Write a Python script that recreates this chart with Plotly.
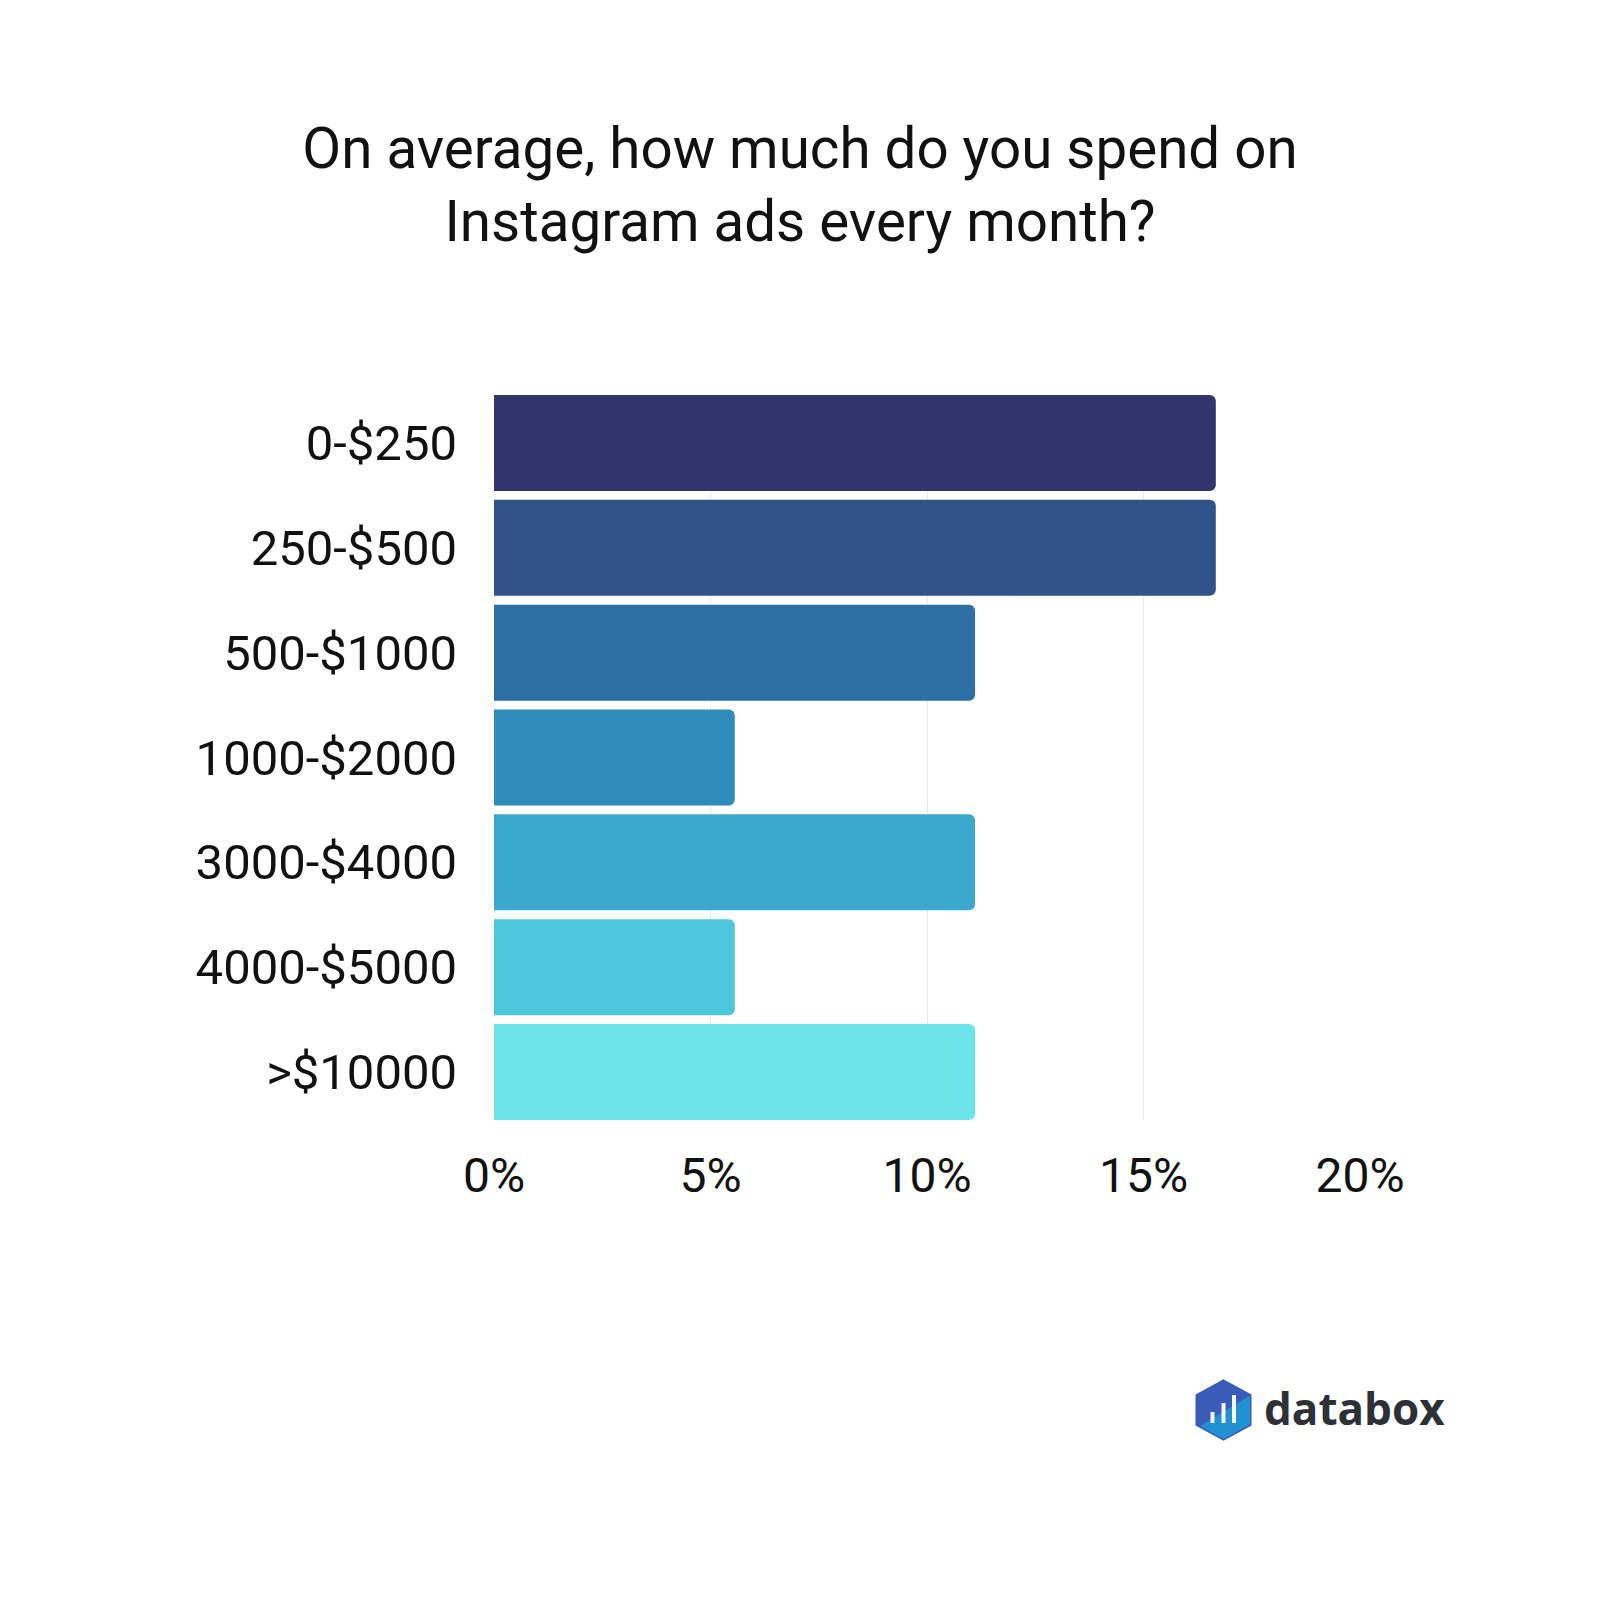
import plotly.graph_objects as go

categories = ["0-$250", "250-$500", "500-$1000", "1000-$2000", "3000-$4000", "4000-$5000", ">$10000"]
values = [16.67, 16.67, 11.11, 5.56, 11.11, 5.56, 11.11]
colors = ["#31356e", "#32538a", "#2e70a5", "#2e8cba", "#3aa9cd", "#4ec6dc", "#6ce4e8"]
x_ticks = [0, 5, 10, 15, 20]
x_tick_labels = ["0%", "5%", "10%", "15%", "20%"]
title_text = "On average, how much do you spend on<br>Instagram ads every month?"

W = H = 1600
L, R, T, B = 494, 240, 395, 480
PW, PH = W - L - R, H - T - B
GAP = 0.084

fig = go.Figure()
fig.add_trace(go.Bar(
    x=values, y=categories, orientation="h",
    marker=dict(color=colors, line=dict(width=0), cornerradius=6),
    hoverinfo="skip",
))

fig.update_layout(
    width=W, height=H,
    paper_bgcolor="white", plot_bgcolor="white",
    margin=dict(l=L, r=R, t=T, b=B, autoexpand=False),
    bargap=GAP,
    showlegend=False,
    font=dict(family="Roboto", color="#111111"),
    title=dict(text=title_text, x=0.5, xanchor="center", y=1 - 168 / H, yanchor="middle",
               yref="container", font=dict(size=56.5, family="Roboto", color="#111111")),
    xaxis=dict(range=[0, 20], tickvals=x_ticks, ticktext=x_tick_labels,
               showgrid=True, gridcolor="#e8e8e8", gridwidth=1, zeroline=False,
               showline=False, ticks="", tickfont=dict(size=48, family="Roboto", color="#111111"),
               ticklabelstandoff=23, fixedrange=True),
    yaxis=dict(categoryorder="array", categoryarray=categories[::-1], autorange=False,
               range=[-0.5 + GAP / 2, len(categories) - 0.5 - GAP / 2],
               showgrid=False, zeroline=False, showline=False, ticks="",
               tickfont=dict(size=49, family="Roboto", color="#111111"),
               ticklabelstandoff=36, fixedrange=True),
)

# databox logo (decoration), pixel -> paper conversion
def px(x, y):
    return (x - L) / PW, (H - B - y) / PH

hexv = [(1223.5, 1381), (1250, 1395.5), (1250, 1424.5), (1223.5, 1439), (1197, 1424.5), (1197, 1395.5)]
path = "M " + " L ".join(f"{px(*p)[0]:.5f},{px(*p)[1]:.5f}" for p in hexv) + " Z"
fig.add_shape(type="path", path=path, xref="paper", yref="paper",
              fillcolor="#3a5cb8", line=dict(color="#3a5cb8", width=3), layer="above")
lower = [(1250, 1395.5), (1250, 1424.5), (1223.5, 1439), (1200, 1426)]
path2 = "M " + " L ".join(f"{px(*p)[0]:.5f},{px(*p)[1]:.5f}" for p in lower) + " Z"
fig.add_shape(type="path", path=path2, xref="paper", yref="paper",
              fillcolor="#1f9ad8", line=dict(width=0), opacity=0.85, layer="above")
for (x0, x1, y0) in [(1210.5, 1214.5, 1412), (1221.5, 1225.5, 1403), (1232, 1236, 1395)]:
    a = px(x0, y0); b = px(x1, 1423)
    fig.add_shape(type="rect", xref="paper", yref="paper", x0=a[0], x1=b[0], y0=b[1], y1=a[1],
                  fillcolor="white", line=dict(width=0), opacity=0.95, layer="above")

ax, ay = px(1262, 1408)
fig.add_annotation(text="<b>databox</b>", xref="paper", yref="paper",
                   x=ax, xanchor="left", y=ay, yanchor="middle",
                   showarrow=False, font=dict(size=44, family="Open Sans", color="#2e3037"))

fig.write_html("out.html")
